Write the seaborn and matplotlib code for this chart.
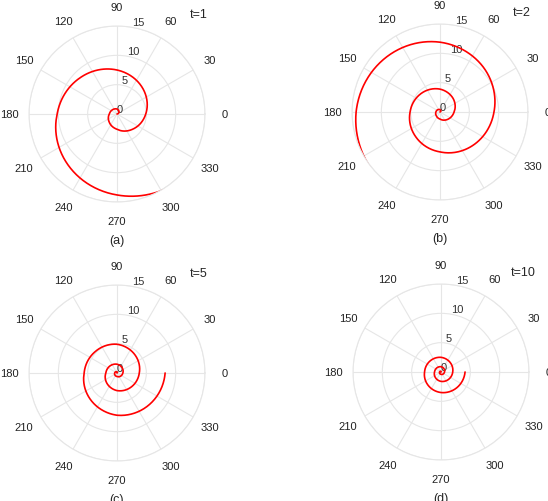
import numpy as np
import pandas as pd
import matplotlib
matplotlib.use("Agg")
import matplotlib.pyplot as plt
import seaborn as sns

# spiral samples (angle in degrees, radius)
theta_a = [0, 45, 90, 135, 180, 225, 270, 315, 360, 405, 450, 495, 540, 585, 630, 667]
r_a = [0.0, 0.5, 0.85, 1.05, 1.3, 1.9, 2.6, 3.7, 4.9, 6.2, 7.5, 8.8, 10.2, 12.0, 13.8, 15.4]

theta_b = [0, 45, 90, 135, 180, 225, 270, 315, 360, 405, 450, 495, 540, 585, 630, 675, 720,
           765, 810, 855, 900, 943]
r_b = [0.0, 0.2, 0.4, 0.55, 0.7, 0.9, 1.2, 1.8, 2.4, 3.2, 3.9, 4.5, 5.1, 5.9, 6.8, 8.0, 9.2,
       10.6, 11.9, 13.1, 14.3, 15.3]

theta_c = [0, 45, 90, 135, 180, 225, 270, 315, 360, 405, 450, 495, 540, 585, 630, 675, 720,
           765, 810, 855, 900, 945, 990, 1035, 1080]
r_c = [0.0, 0.1, 0.2, 0.3, 0.4, 0.5, 0.6, 0.8, 1.0, 1.25, 1.5, 1.7, 1.9, 2.45, 3.0, 3.4, 3.8,
       4.35, 4.9, 5.2, 5.6, 6.4, 7.2, 7.7, 8.2]

theta_d = theta_c
r_d = [0.0, 0.05, 0.1, 0.18, 0.25, 0.32, 0.4, 0.5, 0.6, 0.75, 0.9, 1.0, 1.1, 1.35, 1.6, 1.8,
       2.0, 2.25, 2.5, 2.65, 2.8, 3.15, 3.5, 3.8, 4.1]

titles = ["t=1", "t=2", "t=5", "t=10"]
captions = ["(a)", "(b)", "(c)", "(d)"]
rticks = [0, 5, 10, 15]
angle_ticks = list(range(0, 360, 30))

sns.set_theme(style="white")
plt.rcParams['font.family'] = ['Liberation Sans', 'DejaVu Sans']

fig = plt.figure(figsize=(5.48, 5.02), dpi=100)
W, H = 548, 502
R = 88
centers = [(117, 115), (440, 113), (117, 374), (441, 373)]
data = [(theta_a, r_a), (theta_b, r_b), (theta_c, r_c), (theta_d, r_d)]

for (cx, cy), (th, rr), ttl, cap in zip(centers, data, titles, captions):
    ax = fig.add_axes([(cx - R) / W, (H - cy - R) / H, 2 * R / W, 2 * R / H], projection="polar")
    df = pd.DataFrame({"theta": np.deg2rad(th), "r": rr})
    sns.lineplot(data=df, x="theta", y="r", sort=False, color="red", lw=1.2, ax=ax)
    for ln in ax.lines:
        ln.get_path()._interpolation_steps = 40
    ax.set_xlabel("")
    ax.set_ylabel("")
    ax.set_ylim(0, 15)
    ax.set_yticks(rticks)
    ax.set_yticklabels([str(v) for v in rticks], fontsize=8, color="#333333")
    ax.set_rlabel_position(80)
    ax.set_xticks(np.deg2rad(angle_ticks))
    ax.set_xticklabels([str(a) for a in angle_ticks], fontsize=8, color="#222222")
    ax.tick_params(axis="x", pad=1)
    ax.grid(True, color="#e6e6e6", lw=0.8)
    ax.spines["polar"].set_color("#e6e6e6")
    ax.spines["polar"].set_linewidth(0.8)
    ax.set_facecolor("white")
    fig.text((cx + 82) / W, (H - cy + 100) / H, ttl, fontsize=9, ha="center", va="center")
    fig.text(cx / W, (H - cy - 126) / H, cap, fontsize=9, ha="center", va="center")

fig.savefig("out.png", dpi=100)
